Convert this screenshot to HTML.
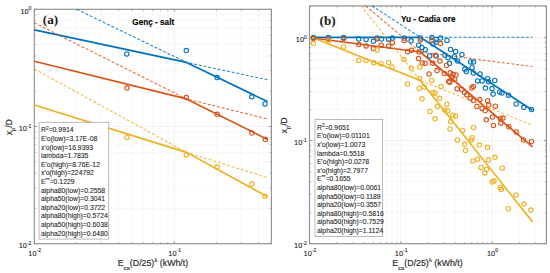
<!DOCTYPE html><html><head><meta charset="utf-8"><style>
html,body{margin:0;padding:0;background:#fff;}
body{width:550px;height:273px;overflow:hidden;}
svg{display:block;}
.mg{stroke:#f3f3f3;stroke-width:0.6;}
.Mg{stroke:#e8e8e8;stroke-width:0.6;}
.tk{stroke:#555;stroke-width:0.6;fill:none;}
.box{fill:none;stroke:#909090;stroke-width:1.15;}
.sl{fill:none;stroke-width:1.65;stroke-linejoin:round;}
.dl{fill:none;stroke-width:1.05;stroke-dasharray:3 1.8;opacity:0.85;}
circle{fill:none;stroke-width:1.1;}
.lg{fill:#fff;stroke:#aaa;stroke-width:0.8;}
text{font-family:"Liberation Sans",sans-serif;fill:#262626;}
.lt{font-size:6.85px;fill:#1a1a1a;stroke:#1a1a1a;stroke-width:0.08;}
.sup2{font-size:4.8px;}
.sup3{font-size:5.2px;}
.tl{font-size:7.4px;stroke:#262626;stroke-width:0.12;}
.sup{font-size:5px;}
.sub{font-size:5px;}
.sub2{font-size:5.8px;}
.sub3{font-size:6.2px;}
.al{font-size:8.8px;stroke:#262626;stroke-width:0.15;}
.al2{font-size:8.4px;stroke:#262626;stroke-width:0.15;}
.tt{font-size:8.2px;font-weight:bold;fill:#000;stroke:#000;stroke-width:0.12;}
.pl{font-family:"Liberation Serif",serif;font-size:13.2px;font-weight:bold;fill:#1a1a1a;}
</style></head><body><svg width="550" height="273" viewBox="0 0 550 273"><line x1="76.44" y1="9.3" x2="76.44" y2="243.7" class="mg"/>
<line x1="101.1" y1="9.3" x2="101.1" y2="243.7" class="mg"/>
<line x1="118.59" y1="9.3" x2="118.59" y2="243.7" class="mg"/>
<line x1="132.16" y1="9.3" x2="132.16" y2="243.7" class="mg"/>
<line x1="143.24" y1="9.3" x2="143.24" y2="243.7" class="mg"/>
<line x1="152.61" y1="9.3" x2="152.61" y2="243.7" class="mg"/>
<line x1="160.73" y1="9.3" x2="160.73" y2="243.7" class="mg"/>
<line x1="167.89" y1="9.3" x2="167.89" y2="243.7" class="mg"/>
<line x1="216.44" y1="9.3" x2="216.44" y2="243.7" class="mg"/>
<line x1="241.1" y1="9.3" x2="241.1" y2="243.7" class="mg"/>
<line x1="258.59" y1="9.3" x2="258.59" y2="243.7" class="mg"/>
<line x1="34.3" y1="208.42" x2="271.4" y2="208.42" class="mg"/>
<line x1="34.3" y1="187.78" x2="271.4" y2="187.78" class="mg"/>
<line x1="34.3" y1="173.14" x2="271.4" y2="173.14" class="mg"/>
<line x1="34.3" y1="161.78" x2="271.4" y2="161.78" class="mg"/>
<line x1="34.3" y1="152.5" x2="271.4" y2="152.5" class="mg"/>
<line x1="34.3" y1="144.65" x2="271.4" y2="144.65" class="mg"/>
<line x1="34.3" y1="137.86" x2="271.4" y2="137.86" class="mg"/>
<line x1="34.3" y1="131.86" x2="271.4" y2="131.86" class="mg"/>
<line x1="34.3" y1="91.22" x2="271.4" y2="91.22" class="mg"/>
<line x1="34.3" y1="70.58" x2="271.4" y2="70.58" class="mg"/>
<line x1="34.3" y1="55.94" x2="271.4" y2="55.94" class="mg"/>
<line x1="34.3" y1="44.58" x2="271.4" y2="44.58" class="mg"/>
<line x1="34.3" y1="35.3" x2="271.4" y2="35.3" class="mg"/>
<line x1="34.3" y1="27.45" x2="271.4" y2="27.45" class="mg"/>
<line x1="34.3" y1="20.66" x2="271.4" y2="20.66" class="mg"/>
<line x1="34.3" y1="14.66" x2="271.4" y2="14.66" class="mg"/>
<line x1="174.3" y1="9.3" x2="174.3" y2="243.7" class="Mg"/>
<line x1="34.3" y1="126.5" x2="271.4" y2="126.5" class="Mg"/>
<path d="M34.3 243.7v-2.4M34.3 9.3v2.4M174.3 243.7v-2.4M174.3 9.3v2.4M76.44 243.7v-1.4M76.44 9.3v1.4M101.1 243.7v-1.4M101.1 9.3v1.4M118.59 243.7v-1.4M118.59 9.3v1.4M132.16 243.7v-1.4M132.16 9.3v1.4M143.24 243.7v-1.4M143.24 9.3v1.4M152.61 243.7v-1.4M152.61 9.3v1.4M160.73 243.7v-1.4M160.73 9.3v1.4M167.89 243.7v-1.4M167.89 9.3v1.4M216.44 243.7v-1.4M216.44 9.3v1.4M241.1 243.7v-1.4M241.1 9.3v1.4M258.59 243.7v-1.4M258.59 9.3v1.4M34.3 243.7h2.4M271.4 243.7h-2.4M34.3 126.5h2.4M271.4 126.5h-2.4M34.3 9.3h2.4M271.4 9.3h-2.4M34.3 208.42h1.4M271.4 208.42h-1.4M34.3 187.78h1.4M271.4 187.78h-1.4M34.3 173.14h1.4M271.4 173.14h-1.4M34.3 161.78h1.4M271.4 161.78h-1.4M34.3 152.5h1.4M271.4 152.5h-1.4M34.3 144.65h1.4M271.4 144.65h-1.4M34.3 137.86h1.4M271.4 137.86h-1.4M34.3 131.86h1.4M271.4 131.86h-1.4M34.3 91.22h1.4M271.4 91.22h-1.4M34.3 70.58h1.4M271.4 70.58h-1.4M34.3 55.94h1.4M271.4 55.94h-1.4M34.3 44.58h1.4M271.4 44.58h-1.4M34.3 35.3h1.4M271.4 35.3h-1.4M34.3 27.45h1.4M271.4 27.45h-1.4M34.3 20.66h1.4M271.4 20.66h-1.4M34.3 14.66h1.4M271.4 14.66h-1.4" class="tk"/>
<rect x="34.3" y="9.3" width="237.1" height="234.4" class="box"/>
<polyline points="34.3,29.9 186.5,62.4 267.5,101.6" stroke="#0072BD" class="sl"/>
<polyline points="76.79,9.3 186.5,62.4 267.5,79.7" stroke="#0072BD" class="dl"/>
<polyline points="34.3,61.2 186.5,98.9 267.5,139.4" stroke="#D95319" class="sl"/>
<polyline points="34.3,22.8 186.5,98.9 267.5,118.96" stroke="#D95319" class="dl"/>
<polyline points="34.3,105 186.5,152.4 267.5,196.79" stroke="#EDB120" class="sl"/>
<polyline points="34.3,68.99 186.5,152.4 267.5,177.63" stroke="#EDB120" class="dl"/>
<g stroke="#0072BD"><circle cx="126.8" cy="53.9" r="2.2"/><circle cx="186.3" cy="50.6" r="2.2"/><circle cx="217.1" cy="77.6" r="2.2"/><circle cx="251.8" cy="96.8" r="2.2"/><circle cx="265" cy="103.9" r="2.2"/></g>
<g stroke="#D95319"><circle cx="127" cy="88.1" r="2.2"/><circle cx="186.3" cy="97.6" r="2.2"/><circle cx="217.1" cy="114.3" r="2.2"/><circle cx="251.8" cy="133" r="2.2"/><circle cx="265.4" cy="139.6" r="2.2"/></g>
<g stroke="#EDB120"><circle cx="127" cy="137.5" r="2.2"/><circle cx="186.3" cy="154.9" r="2.2"/><circle cx="217.1" cy="167.1" r="2.2"/><circle cx="251.8" cy="184.1" r="2.2"/><circle cx="265" cy="196.2" r="2.2"/></g>
<line x1="336.98" y1="5.9" x2="336.98" y2="243.7" class="mg"/>
<line x1="353.06" y1="5.9" x2="353.06" y2="243.7" class="mg"/>
<line x1="364.47" y1="5.9" x2="364.47" y2="243.7" class="mg"/>
<line x1="373.32" y1="5.9" x2="373.32" y2="243.7" class="mg"/>
<line x1="380.55" y1="5.9" x2="380.55" y2="243.7" class="mg"/>
<line x1="386.66" y1="5.9" x2="386.66" y2="243.7" class="mg"/>
<line x1="391.95" y1="5.9" x2="391.95" y2="243.7" class="mg"/>
<line x1="396.62" y1="5.9" x2="396.62" y2="243.7" class="mg"/>
<line x1="428.28" y1="5.9" x2="428.28" y2="243.7" class="mg"/>
<line x1="444.36" y1="5.9" x2="444.36" y2="243.7" class="mg"/>
<line x1="455.77" y1="5.9" x2="455.77" y2="243.7" class="mg"/>
<line x1="464.62" y1="5.9" x2="464.62" y2="243.7" class="mg"/>
<line x1="471.85" y1="5.9" x2="471.85" y2="243.7" class="mg"/>
<line x1="477.96" y1="5.9" x2="477.96" y2="243.7" class="mg"/>
<line x1="483.25" y1="5.9" x2="483.25" y2="243.7" class="mg"/>
<line x1="487.92" y1="5.9" x2="487.92" y2="243.7" class="mg"/>
<line x1="519.58" y1="5.9" x2="519.58" y2="243.7" class="mg"/>
<line x1="535.66" y1="5.9" x2="535.66" y2="243.7" class="mg"/>
<line x1="309.5" y1="212.59" x2="546.4" y2="212.59" class="mg"/>
<line x1="309.5" y1="194.46" x2="546.4" y2="194.46" class="mg"/>
<line x1="309.5" y1="181.59" x2="546.4" y2="181.59" class="mg"/>
<line x1="309.5" y1="171.61" x2="546.4" y2="171.61" class="mg"/>
<line x1="309.5" y1="163.45" x2="546.4" y2="163.45" class="mg"/>
<line x1="309.5" y1="156.55" x2="546.4" y2="156.55" class="mg"/>
<line x1="309.5" y1="150.58" x2="546.4" y2="150.58" class="mg"/>
<line x1="309.5" y1="145.31" x2="546.4" y2="145.31" class="mg"/>
<line x1="309.5" y1="109.59" x2="546.4" y2="109.59" class="mg"/>
<line x1="309.5" y1="91.46" x2="546.4" y2="91.46" class="mg"/>
<line x1="309.5" y1="78.59" x2="546.4" y2="78.59" class="mg"/>
<line x1="309.5" y1="68.61" x2="546.4" y2="68.61" class="mg"/>
<line x1="309.5" y1="60.45" x2="546.4" y2="60.45" class="mg"/>
<line x1="309.5" y1="53.55" x2="546.4" y2="53.55" class="mg"/>
<line x1="309.5" y1="47.58" x2="546.4" y2="47.58" class="mg"/>
<line x1="309.5" y1="42.31" x2="546.4" y2="42.31" class="mg"/>
<line x1="309.5" y1="6.59" x2="546.4" y2="6.59" class="mg"/>
<line x1="400.8" y1="5.9" x2="400.8" y2="243.7" class="Mg"/>
<line x1="492.1" y1="5.9" x2="492.1" y2="243.7" class="Mg"/>
<line x1="309.5" y1="243.6" x2="546.4" y2="243.6" class="Mg"/>
<line x1="309.5" y1="140.6" x2="546.4" y2="140.6" class="Mg"/>
<line x1="309.5" y1="37.6" x2="546.4" y2="37.6" class="Mg"/>
<path d="M309.5 243.7v-2.4M309.5 5.9v2.4M400.8 243.7v-2.4M400.8 5.9v2.4M492.1 243.7v-2.4M492.1 5.9v2.4M336.98 243.7v-1.4M336.98 5.9v1.4M353.06 243.7v-1.4M353.06 5.9v1.4M364.47 243.7v-1.4M364.47 5.9v1.4M373.32 243.7v-1.4M373.32 5.9v1.4M380.55 243.7v-1.4M380.55 5.9v1.4M386.66 243.7v-1.4M386.66 5.9v1.4M391.95 243.7v-1.4M391.95 5.9v1.4M396.62 243.7v-1.4M396.62 5.9v1.4M428.28 243.7v-1.4M428.28 5.9v1.4M444.36 243.7v-1.4M444.36 5.9v1.4M455.77 243.7v-1.4M455.77 5.9v1.4M464.62 243.7v-1.4M464.62 5.9v1.4M471.85 243.7v-1.4M471.85 5.9v1.4M477.96 243.7v-1.4M477.96 5.9v1.4M483.25 243.7v-1.4M483.25 5.9v1.4M487.92 243.7v-1.4M487.92 5.9v1.4M519.58 243.7v-1.4M519.58 5.9v1.4M535.66 243.7v-1.4M535.66 5.9v1.4M309.5 243.6h2.4M546.4 243.6h-2.4M309.5 140.6h2.4M546.4 140.6h-2.4M309.5 37.6h2.4M546.4 37.6h-2.4M309.5 212.59h1.4M546.4 212.59h-1.4M309.5 194.46h1.4M546.4 194.46h-1.4M309.5 181.59h1.4M546.4 181.59h-1.4M309.5 171.61h1.4M546.4 171.61h-1.4M309.5 163.45h1.4M546.4 163.45h-1.4M309.5 156.55h1.4M546.4 156.55h-1.4M309.5 150.58h1.4M546.4 150.58h-1.4M309.5 145.31h1.4M546.4 145.31h-1.4M309.5 109.59h1.4M546.4 109.59h-1.4M309.5 91.46h1.4M546.4 91.46h-1.4M309.5 78.59h1.4M546.4 78.59h-1.4M309.5 68.61h1.4M546.4 68.61h-1.4M309.5 60.45h1.4M546.4 60.45h-1.4M309.5 53.55h1.4M546.4 53.55h-1.4M309.5 47.58h1.4M546.4 47.58h-1.4M309.5 42.31h1.4M546.4 42.31h-1.4M309.5 6.59h1.4M546.4 6.59h-1.4" class="tk"/>
<rect x="309.5" y="5.9" width="236.9" height="237.8" class="box"/>
<polyline points="312.5,37.3 420.3,37.3 532.5,110.23" stroke="#0072BD" class="sl"/>
<polyline points="371.99,5.9 420.3,37.3 532.5,37.3" stroke="#0072BD" class="dl"/>
<polyline points="312.5,38 420.3,52 532.5,146.81" stroke="#D95319" class="sl"/>
<polyline points="365.74,5.9 420.3,52 532.5,66.57" stroke="#D95319" class="dl"/>
<polyline points="312.5,37.6 420.3,80.5 532.5,221.87" stroke="#EDB120" class="sl"/>
<polyline points="361.09,5.9 420.3,80.5 532.5,125.15" stroke="#EDB120" class="dl"/>
<g stroke="#0072BD"><circle cx="313.4" cy="37.5" r="2.2"/><circle cx="328.4" cy="37.5" r="2.2"/><circle cx="343.6" cy="37.6" r="2.2"/><circle cx="358.8" cy="39" r="2.2"/><circle cx="366.1" cy="39.4" r="2.2"/><circle cx="373.4" cy="41.3" r="2.2"/><circle cx="377.1" cy="38.1" r="2.2"/><circle cx="381.5" cy="39" r="2.2"/><circle cx="388.6" cy="39.2" r="2.2"/><circle cx="392.4" cy="38.1" r="2.2"/><circle cx="404.4" cy="38" r="2.2"/><circle cx="411.1" cy="40.8" r="2.2"/><circle cx="420.4" cy="38" r="2.2"/><circle cx="418.7" cy="45.2" r="2.2"/><circle cx="421.9" cy="47.5" r="2.2"/><circle cx="425.2" cy="49.7" r="2.2"/><circle cx="431.9" cy="37.6" r="2.2"/><circle cx="436.1" cy="39.4" r="2.2"/><circle cx="440.6" cy="38.1" r="2.2"/><circle cx="447" cy="40.4" r="2.2"/><circle cx="432.9" cy="44" r="2.2"/><circle cx="436.1" cy="42.2" r="2.2"/><circle cx="450.5" cy="49.5" r="2.2"/><circle cx="455.6" cy="51.5" r="2.2"/><circle cx="461.9" cy="54.5" r="2.2"/><circle cx="429.7" cy="56" r="2.2"/><circle cx="436.2" cy="56" r="2.2"/><circle cx="445" cy="55.3" r="2.2"/><circle cx="448" cy="57.5" r="2.2"/><circle cx="454.6" cy="56.7" r="2.2"/><circle cx="457.5" cy="61.1" r="2.2"/><circle cx="449.4" cy="63.3" r="2.2"/><circle cx="470.7" cy="61.9" r="2.2"/><circle cx="473.5" cy="62.1" r="2.2"/><circle cx="464.8" cy="69.2" r="2.2"/><circle cx="466.3" cy="71.4" r="2.2"/><circle cx="472.2" cy="67.7" r="2.2"/><circle cx="473.4" cy="73" r="2.2"/><circle cx="480" cy="74" r="2.2"/><circle cx="477.7" cy="80.9" r="2.2"/><circle cx="482.1" cy="80.9" r="2.2"/><circle cx="487.6" cy="78.7" r="2.2"/><circle cx="488.5" cy="81.8" r="2.2"/><circle cx="494.7" cy="80.5" r="2.2"/><circle cx="485.4" cy="88.1" r="2.2"/><circle cx="492" cy="88.6" r="2.2"/><circle cx="493.1" cy="94.1" r="2.2"/><circle cx="499.7" cy="91.9" r="2.2"/><circle cx="501.9" cy="93" r="2.2"/><circle cx="508.5" cy="95.2" r="2.2"/><circle cx="516.2" cy="104" r="2.2"/><circle cx="523.8" cy="107.3" r="2.2"/><circle cx="531.5" cy="109.5" r="2.2"/></g>
<g stroke="#D95319"><circle cx="313.4" cy="38.5" r="2.2"/><circle cx="328.4" cy="38.9" r="2.2"/><circle cx="343.6" cy="38.5" r="2.2"/><circle cx="358.8" cy="44.5" r="2.2"/><circle cx="366.1" cy="45.9" r="2.2"/><circle cx="373.4" cy="48.6" r="2.2"/><circle cx="377.1" cy="39" r="2.2"/><circle cx="381.2" cy="45.2" r="2.2"/><circle cx="388.6" cy="45.9" r="2.2"/><circle cx="392.4" cy="42.7" r="2.2"/><circle cx="404.3" cy="40.4" r="2.2"/><circle cx="411.6" cy="50.3" r="2.2"/><circle cx="420.4" cy="39.9" r="2.2"/><circle cx="407.5" cy="51.8" r="2.2"/><circle cx="419" cy="52" r="2.2"/><circle cx="431.9" cy="40.4" r="2.2"/><circle cx="440.6" cy="43.6" r="2.2"/><circle cx="418.5" cy="58.6" r="2.2"/><circle cx="422.2" cy="63" r="2.2"/><circle cx="425.1" cy="63.2" r="2.2"/><circle cx="429" cy="74" r="2.2"/><circle cx="432.6" cy="63.3" r="2.2"/><circle cx="435.5" cy="55.3" r="2.2"/><circle cx="439.9" cy="61.1" r="2.2"/><circle cx="437" cy="70.6" r="2.2"/><circle cx="446.5" cy="65.5" r="2.2"/><circle cx="444.3" cy="73.6" r="2.2"/><circle cx="450.2" cy="72.8" r="2.2"/><circle cx="453.1" cy="74.3" r="2.2"/><circle cx="456" cy="75" r="2.2"/><circle cx="451.6" cy="77.2" r="2.2"/><circle cx="448.7" cy="81.6" r="2.2"/><circle cx="454.6" cy="79.4" r="2.2"/><circle cx="449.8" cy="82.2" r="2.2"/><circle cx="457.1" cy="88.8" r="2.2"/><circle cx="461.5" cy="89.5" r="2.2"/><circle cx="464.5" cy="92.5" r="2.2"/><circle cx="466.7" cy="94.7" r="2.2"/><circle cx="471.8" cy="88.1" r="2.2"/><circle cx="473.3" cy="86.6" r="2.2"/><circle cx="470.3" cy="98.3" r="2.2"/><circle cx="473.3" cy="100.5" r="2.2"/><circle cx="476.9" cy="106.4" r="2.2"/><circle cx="479.9" cy="99.6" r="2.2"/><circle cx="487.6" cy="100.7" r="2.2"/><circle cx="482.1" cy="108.4" r="2.2"/><circle cx="485.2" cy="110.6" r="2.2"/><circle cx="488.7" cy="105.1" r="2.2"/><circle cx="495.3" cy="106.2" r="2.2"/><circle cx="486.3" cy="119.8" r="2.2"/><circle cx="492.5" cy="117" r="2.2"/><circle cx="493.4" cy="125.4" r="2.2"/><circle cx="500.4" cy="118.8" r="2.2"/><circle cx="503" cy="118.1" r="2.2"/><circle cx="500.8" cy="123.2" r="2.2"/><circle cx="508.8" cy="126.8" r="2.2"/><circle cx="516.2" cy="132" r="2.2"/><circle cx="523.5" cy="140" r="2.2"/><circle cx="531.5" cy="141.5" r="2.2"/></g>
<g stroke="#EDB120"><circle cx="313.4" cy="43.5" r="2.2"/><circle cx="328.4" cy="41" r="2.2"/><circle cx="343.5" cy="47" r="2.2"/><circle cx="358.8" cy="60.4" r="2.2"/><circle cx="366.1" cy="60.4" r="2.2"/><circle cx="373.7" cy="62.8" r="2.2"/><circle cx="377.2" cy="50" r="2.2"/><circle cx="381" cy="63.7" r="2.2"/><circle cx="388.6" cy="62.5" r="2.2"/><circle cx="392" cy="66.9" r="2.2"/><circle cx="404" cy="59.6" r="2.2"/><circle cx="411.4" cy="68.3" r="2.2"/><circle cx="419.8" cy="67" r="2.2"/><circle cx="407.4" cy="84" r="2.2"/><circle cx="419.4" cy="78.4" r="2.2"/><circle cx="419.2" cy="88.2" r="2.2"/><circle cx="424.1" cy="87" r="2.2"/><circle cx="422" cy="98.8" r="2.2"/><circle cx="431.6" cy="80.5" r="2.2"/><circle cx="441" cy="86.6" r="2.2"/><circle cx="433" cy="92.5" r="2.2"/><circle cx="435.2" cy="93.2" r="2.2"/><circle cx="439.6" cy="98.3" r="2.2"/><circle cx="437.4" cy="106.4" r="2.2"/><circle cx="446.9" cy="104.2" r="2.2"/><circle cx="444.7" cy="110" r="2.2"/><circle cx="447.6" cy="110.8" r="2.2"/><circle cx="430" cy="111.5" r="2.2"/><circle cx="435" cy="118.8" r="2.2"/><circle cx="452.7" cy="115.2" r="2.2"/><circle cx="455.5" cy="116.2" r="2.2"/><circle cx="450.8" cy="121.6" r="2.2"/><circle cx="450" cy="128.9" r="2.2"/><circle cx="462.5" cy="130.4" r="2.2"/><circle cx="473.6" cy="127.5" r="2.2"/><circle cx="457.4" cy="139.9" r="2.2"/><circle cx="472.1" cy="137.7" r="2.2"/><circle cx="471.3" cy="139.9" r="2.2"/><circle cx="464.7" cy="144.3" r="2.2"/><circle cx="479.4" cy="145.1" r="2.2"/><circle cx="487.5" cy="147.3" r="2.2"/><circle cx="465.5" cy="150.5" r="2.2"/><circle cx="472.9" cy="161" r="2.2"/><circle cx="477.5" cy="159.2" r="2.2"/><circle cx="488.5" cy="160.1" r="2.2"/><circle cx="494.9" cy="157.3" r="2.2"/><circle cx="481.1" cy="167.4" r="2.2"/><circle cx="486.6" cy="169.2" r="2.2"/><circle cx="484.8" cy="172.9" r="2.2"/><circle cx="502.2" cy="167.9" r="2.2"/><circle cx="492.1" cy="182" r="2.2"/><circle cx="494" cy="181.1" r="2.2"/><circle cx="500.4" cy="187.5" r="2.2"/><circle cx="501.3" cy="189.6" r="2.2"/><circle cx="516.1" cy="195" r="2.2"/><circle cx="508.3" cy="208.7" r="2.2"/><circle cx="524" cy="204.1" r="2.2"/><circle cx="530.8" cy="210.1" r="2.2"/></g>
<rect x="39.1" y="122.3" width="69.6" height="116.8" class="lg"/>
<text x="41" y="132.4" class="lt">R<tspan class="sup2" dy="-2.5">2</tspan><tspan dy="2.5">=0.9914</tspan></text>
<text x="41" y="141" class="lt">E'o(low)=3.17E-08</text>
<text x="41" y="149.6" class="lt">x'o(low)=16.9393</text>
<text x="41" y="158.2" class="lt">lambda=1.7835</text>
<text x="41" y="166.8" class="lt">E'o(high)=8.76E-12</text>
<text x="41" y="175.4" class="lt">x'o(high)=224792</text>
<text x="41" y="184" class="lt">E<tspan class="sup3" dy="-2.2">**</tspan><tspan dy="2.2">=0.1229</tspan></text>
<text x="41" y="192.6" class="lt">alpha80(low)=0.2558</text>
<text x="41" y="201.2" class="lt">alpha50(low)=0.3041</text>
<text x="41" y="209.8" class="lt">alpha20(low)=0.3722</text>
<text x="41" y="218.4" class="lt">alpha80(high)=0.5724</text>
<text x="41" y="227" class="lt">alpha50(high)=0.6038</text>
<text x="41" y="235.6" class="lt">alpha20(high)=0.6480</text>
<rect x="315" y="119.5" width="67.6" height="116.9" class="lg"/>
<text x="317" y="129.8" class="lt">R<tspan class="sup2" dy="-2.5">2</tspan><tspan dy="2.5">=0.9651</tspan></text>
<text x="317" y="138.4" class="lt">E'o(low)=0.01101</text>
<text x="317" y="147" class="lt">x'o(low)=1.0073</text>
<text x="317" y="155.6" class="lt">lambda=0.5518</text>
<text x="317" y="164.2" class="lt">E'o(high)=0.0278</text>
<text x="317" y="172.8" class="lt">x'o(high)=2.7977</text>
<text x="317" y="181.4" class="lt">E<tspan class="sup3" dy="-2.2">**</tspan><tspan dy="2.2">=0.1655</tspan></text>
<text x="317" y="190" class="lt">alpha80(low)=0.0061</text>
<text x="317" y="198.6" class="lt">alpha50(low)=0.1189</text>
<text x="317" y="207.2" class="lt">alpha20(low)=0.3557</text>
<text x="317" y="215.8" class="lt">alpha80(high)=0.5816</text>
<text x="317" y="224.4" class="lt">alpha50(high)=0.7529</text>
<text x="317" y="233" class="lt">alpha20(high)=1.1124</text>
<text x="31.4" y="13.6" text-anchor="end" class="tl">10<tspan class="sup" dy="-3.3">0</tspan></text>
<text x="31.4" y="130.8" text-anchor="end" class="tl">10<tspan class="sup" dy="-3.3">-1</tspan></text>
<text x="31.4" y="248" text-anchor="end" class="tl">10<tspan class="sup" dy="-3.3">-2</tspan></text>
<text x="34.7" y="255.7" text-anchor="middle" class="tl">10<tspan class="sup" dy="-3.3">-2</tspan></text>
<text x="174.7" y="255.7" text-anchor="middle" class="tl">10<tspan class="sup" dy="-3.3">-1</tspan></text>
<text x="306.8" y="41.9" text-anchor="end" class="tl">10<tspan class="sup" dy="-3.3">0</tspan></text>
<text x="306.8" y="144.9" text-anchor="end" class="tl">10<tspan class="sup" dy="-3.3">-1</tspan></text>
<text x="306.8" y="248" text-anchor="end" class="tl">10<tspan class="sup" dy="-3.3">-2</tspan></text>
<text x="309.9" y="255.7" text-anchor="middle" class="tl">10<tspan class="sup" dy="-3.3">-2</tspan></text>
<text x="401.2" y="255.7" text-anchor="middle" class="tl">10<tspan class="sup" dy="-3.3">-1</tspan></text>
<text x="492.5" y="255.7" text-anchor="middle" class="tl">10<tspan class="sup" dy="-3.3">0</tspan></text>
<text x="153" y="266.3" text-anchor="middle" class="al">E<tspan class="sub3" dy="3.4">cs</tspan><tspan dy="-3.4">(D/25)</tspan><tspan class="sub3" dy="-4">λ</tspan><tspan dy="4"> (kWh/t)</tspan></text>
<text x="427.5" y="266.3" text-anchor="middle" class="al">E<tspan class="sub3" dy="3.4">cs</tspan><tspan dy="-3.4">(D/25)</tspan><tspan class="sub3" dy="-4">λ</tspan><tspan dy="4"> (kWh/t)</tspan></text>
<text transform="translate(12 127.2) rotate(-90)" text-anchor="middle" class="al2">x<tspan class="sub2" dy="2.6">p</tspan><tspan dy="-2.6">/D</tspan></text>
<text transform="translate(287.4 125.3) rotate(-90)" text-anchor="middle" class="al2">x<tspan class="sub2" dy="2.6">p</tspan><tspan dy="-2.6">/D</tspan></text>
<text x="132.3" y="24.5" class="tt">Genç - salt</text>
<text x="401" y="22" class="tt">Yu - Cadia ore</text>
<text x="42.8" y="24" class="pl">(a)</text>
<text x="319.6" y="24.6" class="pl">(b)</text></svg></body></html>
